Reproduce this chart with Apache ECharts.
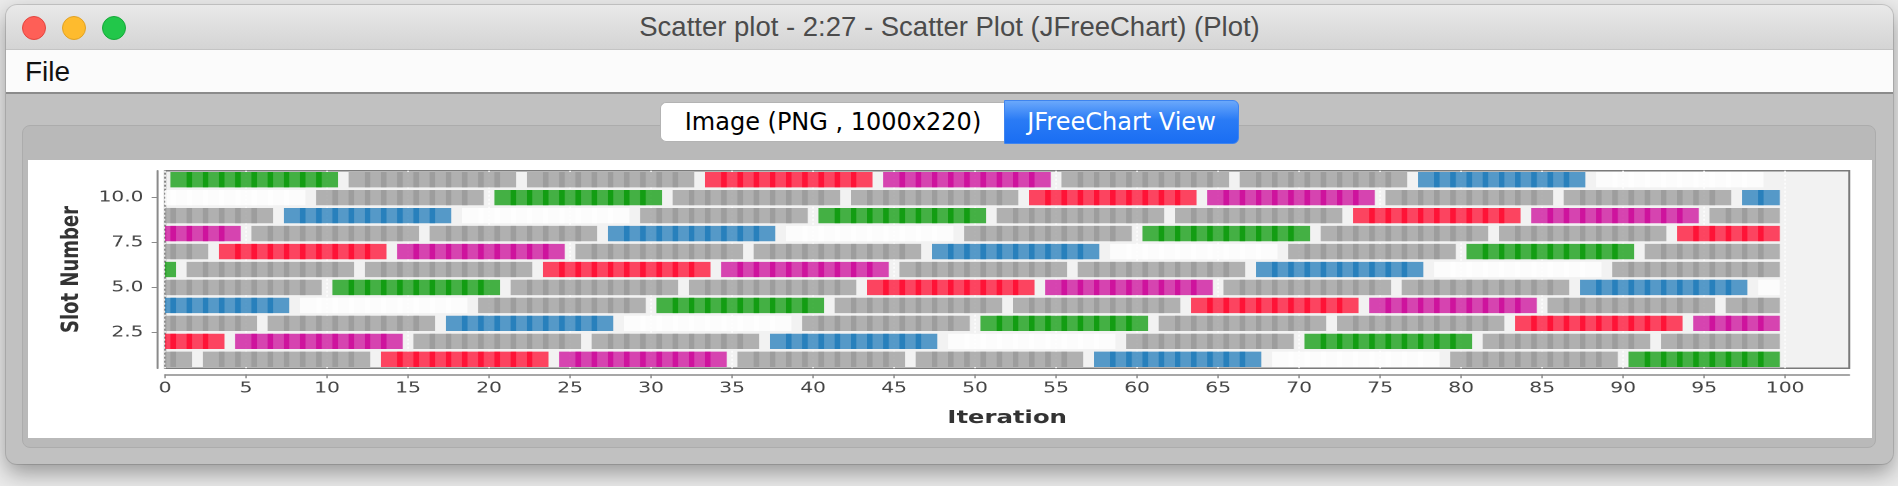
<!DOCTYPE html>
<html>
<head>
<meta charset="utf-8">
<script src="https://cdn.jsdelivr.net/npm/echarts@6/dist/echarts.min.js"></script>
<style>
html,body{margin:0;padding:0;width:1898px;height:486px;overflow:hidden;background:#ebebeb;}
#win{position:absolute;left:6px;top:5px;width:1887px;height:459px;border-radius:11px;overflow:hidden;background:#c1c1c1;
  box-shadow:0 9px 22px rgba(0,0,0,0.36),0 0 0 1px rgba(0,0,0,0.13);}
#titlebar{position:absolute;left:0;top:0;width:100%;height:44px;background:linear-gradient(#e9e9e9,#d4d4d4);border-bottom:1px solid #c4c4c4;}
.tl{position:absolute;top:11px;width:24px;height:24px;border-radius:50%;box-sizing:border-box;}
#title{position:absolute;left:0;top:0;width:100%;height:44px;line-height:44px;text-align:center;
  font-family:"Liberation Sans",Arial,sans-serif;font-size:27.5px;color:#4b4b4b;}
#menubar{position:absolute;left:0;top:45px;width:100%;height:42px;background:#fbfbfb;border-bottom:2px solid #8b8b8b;}
#file{position:absolute;left:19px;top:0;height:42px;line-height:44px;font-family:"Liberation Sans",Arial,sans-serif;font-size:28px;color:#111;}
#inner{position:absolute;left:16px;top:120px;width:1852px;height:321px;background:#b9b9b9;border:1px solid #acacac;border-radius:8px;}
.tab{position:absolute;box-sizing:border-box;text-align:center;font-family:"DejaVu Sans",sans-serif;font-size:24px;}
#tab1{left:654px;top:97px;width:345px;height:40px;line-height:38px;background:#fff;color:#000;border:1px solid #b3b3b3;border-right:none;border-radius:6px 0 0 6px;}
#tab2{left:998px;top:95px;width:235px;height:44px;line-height:42px;background:linear-gradient(#6aa8fb,#2a7bf5 45%,#1a6ef3);color:#fff;border:1px solid #3f84ee;border-radius:0 6px 6px 0;}
#panel{position:absolute;left:22px;top:155px;width:1844px;height:278px;background:#fff;overflow:hidden;}
#chart{position:absolute;left:0;top:0;width:1366px;height:278px;transform:scaleX(1.35);transform-origin:0 0;}
</style>
</head>
<body>
<div id="win">
  <div id="titlebar">
    <div class="tl" style="left:16px;background:#fe5f57;border:1px solid #e2463f;"></div>
    <div class="tl" style="left:56px;background:#febb2e;border:1px solid #e0a125;"></div>
    <div class="tl" style="left:96px;background:#22c74a;border:1px solid #17a83a;"></div>
    <div id="title">Scatter plot - 2:27 - Scatter Plot (JFreeChart) (Plot)</div>
  </div>
  <div id="menubar"><div id="file">File</div></div>
  <div id="inner"></div>
  <div class="tab" id="tab1">Image (PNG , 1000x220)</div>
  <div class="tab" id="tab2">JFreeChart View</div>
  <div id="panel"><div id="chart"></div></div>
</div>
<script>
// One character per iteration 0..99; '.' = no point.
// x = gray, G = green, R = red, M = magenta, B = blue, W = white
const slot11 = ".GGGGGGGGGG.xxxxxxxxxx.xxxxxxxxxx.RRRRRRRRRR.MMMMMMMMMM.xxxxxxxxxx.xxxxxxxxxx.BBBBBBBBBB.WWWWWWWWWW.";
const slot10 = "WWWWWWWWW.xxxxxxxxxx.GGGGGGGGGG.xxxxxxxxxx.xxxxxxxxxx.RRRRRRRRRR.MMMMMMMMMM.xxxxxxxxxx.xxxxxxxxxx.BB";
const slot09 = "xxxxxxx.BBBBBBBBBB.WWWWWWWWWW.xxxxxxxxxx.GGGGGGGGGG.xxxxxxxxxx.xxxxxxxxxx.RRRRRRRRRR.MMMMMMMMMM.xxxx";
const slot08 = "MMMMM.xxxxxxxxxx.xxxxxxxxxx.BBBBBBBBBB.WWWWWWWWWW.xxxxxxxxxx.GGGGGGGGGG.xxxxxxxxxx.xxxxxxxxxx.RRRRRR";
const slot07 = "xxx.RRRRRRRRRR.MMMMMMMMMM.xxxxxxxxxx.xxxxxxxxxx.BBBBBBBBBB.WWWWWWWWWW.xxxxxxxxxx.GGGGGGGGGG.xxxxxxxx";
const slot06 = "G.xxxxxxxxxx.xxxxxxxxxx.RRRRRRRRRR.MMMMMMMMMM.xxxxxxxxxx.xxxxxxxxxx.BBBBBBBBBB.WWWWWWWWWW.xxxxxxxxxx";
const slot05 = "xxxxxxxxxx.GGGGGGGGGG.xxxxxxxxxx.xxxxxxxxxx.RRRRRRRRRR.MMMMMMMMMM.xxxxxxxxxx.xxxxxxxxxx.BBBBBBBBBB.W";
const slot04 = "BBBBBBBB.WWWWWWWWWW.xxxxxxxxxx.GGGGGGGGGG.xxxxxxxxxx.xxxxxxxxxx.RRRRRRRRRR.MMMMMMMMMM.xxxxxxxxxx.xxx";
const slot03 = "xxxxxx.xxxxxxxxxx.BBBBBBBBBB.WWWWWWWWWW.xxxxxxxxxx.GGGGGGGGGG.xxxxxxxxxx.xxxxxxxxxx.RRRRRRRRRR.MMMMM";
const slot02 = "RRRR.MMMMMMMMMM.xxxxxxxxxx.xxxxxxxxxx.BBBBBBBBBB.WWWWWWWWWW.xxxxxxxxxx.GGGGGGGGGG.xxxxxxxxxx.xxxxxxx";
const slot01 = "xx.xxxxxxxxxx.RRRRRRRRRR.MMMMMMMMMM.xxxxxxxxxx.xxxxxxxxxx.BBBBBBBBBB.WWWWWWWWWW.xxxxxxxxxx.GGGGGGGGG";

const slotNumbers = [1,2,3,4,5,6,7,8,9,10,11];
const slotRows = [slot01,slot02,slot03,slot04,slot05,slot06,slot07,slot08,slot09,slot10,slot11];

const seriesKeys   = ['x','G','R','M','B','W'];
const seriesNames  = ['Gray','Green','Red','Magenta','Blue','White'];
const seriesColors = ['rgb(150,150,150)','rgb(0,150,0)','rgb(255,0,39)','rgb(203,0,150)','rgb(24,118,183)','rgb(255,255,255)'];

const xTickValues = [0,5,10,15,20,25,30,35,40,45,50,55,60,65,70,75,80,85,90,95,100];
const yTickValues = [2.5,5,7.5,10];

slotRows.forEach((r,i)=>{ if(r.length!==100) throw new Error('slot '+slotNumbers[i]+' length '+r.length); });

const SQ_W = 1.34, SQ_H = 0.853, ALPHA = 0.72;

const series = seriesKeys.map((key, si) => {
  const data = [];
  slotRows.forEach((row, ri) => {
    for (let it = 0; it < row.length; it++) if (row[it] === key) data.push([it, slotNumbers[ri]]);
  });
  return {
    type: 'custom', name: seriesNames[si], data: data,
    encode: {x: 0, y: 1},
    renderItem: function (params, api) {
      const c = api.coord([api.value(0), api.value(1)]);
      const s = api.size([SQ_W, SQ_H]);
      const cs = params.coordSys;
      const shape = echarts.graphic.clipRectByRect(
        {x: c[0] - s[0] / 2, y: c[1] - s[1] / 2, width: s[0], height: s[1]},
        {x: cs.x, y: cs.y, width: cs.width, height: cs.height});
      if (!shape) return;
      return {type: 'rect', shape: shape, style: {fill: seriesColors[si], opacity: ALPHA}};
    }
  };
});

const axisColor = '#8a8a8a';
const chart = echarts.init(document.getElementById('chart'), null, {renderer: 'canvas', devicePixelRatio: 2});
chart.setOption({
  animation: false,
  grid: {left: 101.5, right: 17, top: 10.7, bottom: 69.7, show: true, backgroundColor: '#f2f2f2',
         borderColor: '#7a7a7a', borderWidth: 1.5, containLabel: false, outerBoundsMode: 'none'},
  xAxis: {
    type: 'value', min: 0, max: 103.95, interval: 5, offset: 6,
    name: 'Iteration', nameLocation: 'middle', nameGap: 35,
    nameTextStyle: {fontFamily: 'DejaVu Sans', fontWeight: 'bold', fontSize: 18, color: '#333'},
    axisLine: {show: true, onZero: false, lineStyle: {color: axisColor, width: 1.5}},
    axisTick: {show: true, length: 4, customValues: xTickValues, lineStyle: {color: axisColor, width: 1}},
    axisLabel: {customValues: xTickValues, margin: 7, color: '#444', fontFamily: 'DejaVu Sans', fontSize: 15},
    splitLine: {show: true, lineStyle: {color: '#ffffff', type: [2, 2], width: 1}}
  },
  yAxis: {
    type: 'value', min: 0.5, max: 11.5, offset: 5.9,
    name: 'Slot Number', nameLocation: 'middle', nameGap: 53,
    nameTextStyle: {fontFamily: 'DejaVu Sans', fontWeight: 'bold', fontSize: 18, color: '#333'},
    axisLine: {show: true, onZero: false, lineStyle: {color: axisColor, width: 1.5}},
    axisTick: {show: true, length: 4, customValues: yTickValues, lineStyle: {color: axisColor, width: 1}},
    axisLabel: {customValues: yTickValues, margin: 10, color: '#444', fontFamily: 'DejaVu Sans', fontSize: 15,
                formatter: v => Number(v).toFixed(1)},
    splitLine: {show: false}
  },
  series: series
});
</script>
</body>
</html>
